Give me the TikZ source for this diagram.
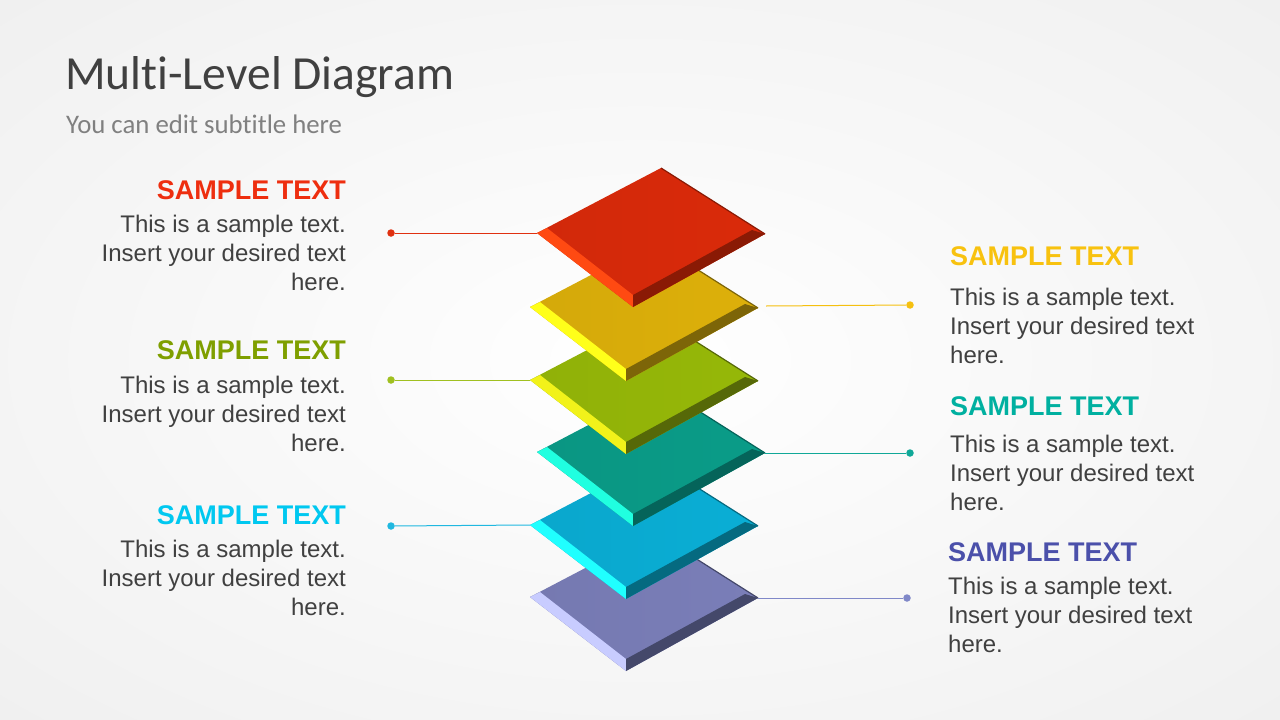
\documentclass[tikz,border=0pt]{standalone}
\usepackage{fontspec}
\setmainfont{Liberation Sans}
\newfontfamily\titlefont[Ligatures={NoCommon}]{Carlito}
\usepackage{xcolor}
\usepackage{tikz}
\usetikzlibrary{calc}

\definecolor{bodygray}{HTML}{404040}
\definecolor{titlegray}{HTML}{404040}
\definecolor{subgray}{HTML}{808080}
% plate colours: top face, light bevel, dark bevel
\definecolor{redTop}{HTML}{DA2A0A}   \definecolor{redLit}{HTML}{FF4A12}   \definecolor{redDark}{HTML}{8A1A05}
\definecolor{ylwTop}{HTML}{DDB00A}   \definecolor{ylwLit}{HTML}{FFFF1A}   \definecolor{ylwDark}{HTML}{7D6508}
\definecolor{grnTop}{HTML}{96B808}   \definecolor{grnLit}{HTML}{F2F21A}   \definecolor{grnDark}{HTML}{566808}
\definecolor{tealTop}{HTML}{0A9C88}  \definecolor{tealLit}{HTML}{20FFE0}  \definecolor{tealDark}{HTML}{05645A}
\definecolor{bluTop}{HTML}{0AAED5}   \definecolor{bluLit}{HTML}{20FFFF}   \definecolor{bluDark}{HTML}{056A80}
\definecolor{purTop}{HTML}{7A7EB8}   \definecolor{purLit}{HTML}{C8CCFF}   \definecolor{purDark}{HTML}{44486A}
% connector and heading colours
\definecolor{redLine}{HTML}{E03010}  \definecolor{redHead}{HTML}{EE2E0F}
\definecolor{ylwLine}{HTML}{F5C010}  \definecolor{ylwHead}{HTML}{F8C20F}
\definecolor{grnLine}{HTML}{A0C020}  \definecolor{grnHead}{HTML}{7F9F00}
\definecolor{tealLine}{HTML}{10A898} \definecolor{tealHead}{HTML}{00B0A0}
\definecolor{bluLine}{HTML}{20B8E0}  \definecolor{bluHead}{HTML}{00C8F0}
\definecolor{purLine}{HTML}{8088C8}  \definecolor{purHead}{HTML}{4B50AA}

\pgfdeclareradialshading{slidebg}{\pgfpoint{0bp}{0bp}}{%
  color(0bp)=(white); color(18bp)=(white!97!black); color(72bp)=(black!12)}

% one bevelled plate: name, x, y, top, light, dark
\newcommand{\drawplate}[6]{%
  \begin{scope}[shift={(#2,#3)}]
    \coordinate (#1L) at (0,0);
    \coordinate (#1B) at (96,74);
    \coordinate (#1R) at (228,1);
    \coordinate (#1T) at (124,-65);
    \coordinate (#1l) at (10,-5);
    \coordinate (#1b) at (96,62);
    \coordinate (#1r) at (215,-3);
    \shade[left color=#4!96!black, right color=#4] (#1T) -- (#1L) -- (#1B) -- (#1R) -- cycle;
    \fill[#5] (#1L) -- (#1B) -- (#1b) -- (#1l) -- cycle;
    \fill[#6] (#1B) -- (#1R) -- (#1r) -- (#1b) -- cycle;
    \draw[#6, line width=1.2pt] (#1T) -- (#1R);
  \end{scope}
}

\tikzset{
  lhead/.style={anchor=base east, inner sep=0pt, font=\bfseries\fontsize{27}{32}\selectfont},
  rhead/.style={anchor=base west, inner sep=0pt, font=\bfseries\fontsize{27}{32}\selectfont},
  % multi-line text: anchored at the baseline of its last line
  lbody/.style={anchor=base east, inner sep=0pt, align=right, text=bodygray, font=\fontsize{24}{28.7}\selectfont},
  rbody/.style={anchor=base west, inner sep=0pt, align=left, text=bodygray, font=\fontsize{24}{28.7}\selectfont},
  dot/.style={circle, fill, inner sep=0pt, minimum size=7.5pt},
  link/.style={line width=1pt}
}

\begin{document}
\begin{tikzpicture}[x=1pt, y=-1pt]
    % Background
    \useasboundingbox (0,0) rectangle (1280,720);
    \shade[shading=slidebg] (0,0) rectangle (1280,720);

    % Title
    \node[anchor=base west, inner sep=0pt, text=titlegray, font=\titlefont\fontsize{47.5}{52}\selectfont] (title) at (65,89) {Multi-Level Diagram};
    \node[anchor=base west, inner sep=0pt, text=subgray, font=\titlefont\fontsize{26.8}{30}\selectfont] (subtitle) at (66,133) {You can edit subtitle here};

    % Plates, bottom first
    \drawplate{pur}{530}{597}{purTop}{purLit}{purDark}
    \drawplate{blu}{530}{525}{bluTop}{bluLit}{bluDark}
    \drawplate{teal}{537}{452}{tealTop}{tealLit}{tealDark}
    \drawplate{grn}{530}{380}{grnTop}{grnLit}{grnDark}
    \drawplate{ylw}{530}{307}{ylwTop}{ylwLit}{ylwDark}
    \drawplate{red}{537}{233}{redTop}{redLit}{redDark}

    % Connectors on the left
    \node[dot, redLine] (redDot) at (391,233) {};
    \node[dot, grnLine] (grnDot) at (391,380) {};
    \node[dot, bluLine] (bluDot) at (391,526) {};
    \draw[link, redLine] (redDot) -- (redL);
    \draw[link, grnLine] (grnDot) -- (grnL);
    \draw[link, bluLine] (bluDot) -- (bluL);

    % Connectors on the right
    \node[dot, ylwLine] (ylwDot) at (910,305) {};
    \node[dot, tealLine] (tealDot) at (910,453) {};
    \node[dot, purLine] (purDot) at (907,598) {};
    \coordinate (ylwEnd) at ($(ylwR)+(8,-2)$);
    \draw[link, ylwLine] (ylwEnd) -- (ylwDot);
    \draw[link, tealLine] (tealR) -- (tealDot);
    \draw[link, purLine] (purR) -- (purDot);

    % Left texts
    \node[lhead, text=redHead] (redHd) at (346,199) {SAMPLE TEXT};
    \node[lbody] (redTx) at (346,290) {This is a sample text.\\Insert your desired text\\here.};
    \node[lhead, text=grnHead] (grnHd) at (346,359) {SAMPLE TEXT};
    \node[lbody] (grnTx) at (346,451) {This is a sample text.\\Insert your desired text\\here.};
    \node[lhead, text=bluHead] (bluHd) at (346,524) {SAMPLE TEXT};
    \node[lbody] (bluTx) at (346,615) {This is a sample text.\\Insert your desired text\\here.};

    % Right texts
    \node[rhead, text=ylwHead] (ylwHd) at (950,265) {SAMPLE TEXT};
    \node[rbody] (ylwTx) at (950,363) {This is a sample text.\\Insert your desired text\\here.};
    \node[rhead, text=tealHead] (tealHd) at (950,415) {SAMPLE TEXT};
    \node[rbody] (tealTx) at (950,510) {This is a sample text.\\Insert your desired text\\here.};
    \node[rhead, text=purHead] (purHd) at (948,561) {SAMPLE TEXT};
    \node[rbody] (purTx) at (948,652) {This is a sample text.\\Insert your desired text\\here.};
\end{tikzpicture}
\end{document}
